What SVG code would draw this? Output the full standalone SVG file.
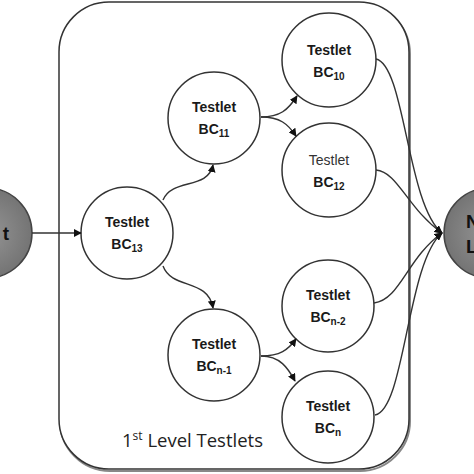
<svg xmlns="http://www.w3.org/2000/svg" width="474" height="474" viewBox="0 0 474 474">
<defs>
<marker id="ah" viewBox="0 0 10 10" refX="9" refY="5" markerWidth="8" markerHeight="8" markerUnits="userSpaceOnUse" orient="auto">
<path d="M0,0 L10,5 L0,10 z" fill="#111"/>
</marker>
<radialGradient id="gg" cx="0.5" cy="0.5" r="0.5">
<stop offset="0" stop-color="#959595"/>
<stop offset="1" stop-color="#747474"/>
</radialGradient>
</defs>
<style>
.node{fill:#fff;stroke:#333;stroke-width:1.5}
.ext{fill:url(#gg);stroke:#444;stroke-width:1.5}
.t{font-family:"Liberation Sans",Arial,sans-serif;font-size:14px;font-weight:bold;fill:#1a1a1a;text-anchor:middle}
.tr{font-weight:normal;fill:#333}
.sub{font-size:10px}
.big{font-family:"Liberation Sans",Arial,sans-serif;font-size:19px;font-weight:bold;fill:#111}
.conn path{fill:none;stroke:#333;stroke-width:1.4}
.lbl{font-family:"Open Sans","Liberation Sans",sans-serif;font-size:18.5px;fill:#222}
</style>
<g id="box">
<rect x="60" y="4" width="350" height="467" rx="50" fill="none" stroke="#888" stroke-width="2"/>
<rect x="59" y="2" width="350" height="467" rx="50" fill="#fff" stroke="#333" stroke-width="1.5"/>
<text class="lbl" x="122" y="447">1<tspan font-size="12" dy="-7">st</tspan><tspan dy="7"> Level Testlets</tspan></text>
</g>
<g id="input">
<circle class="ext" cx="-13" cy="233" r="45"/>
<text class="big" x="9" y="240" text-anchor="end">t</text>
</g>
<g id="output">
<circle class="ext" cx="489" cy="233" r="45"/>
<text class="big" x="466" y="228">N</text>
<text class="big" x="466" y="253">L</text>
</g>
<g id="bc13">
<circle class="node" cx="127" cy="233" r="46"/>
<text class="t" x="127" y="227">Testlet</text>
<text class="t" x="127" y="249">BC<tspan class="sub" dy="3">13</tspan></text>
</g>
<g id="bc11">
<circle class="node" cx="214" cy="118" r="46"/>
<text class="t" x="214" y="112">Testlet</text>
<text class="t" x="214" y="134">BC<tspan class="sub" dy="3">11</tspan></text>
</g>
<g id="bcn1">
<circle class="node" cx="214" cy="355" r="46"/>
<text class="t" x="214" y="349">Testlet</text>
<text class="t" x="214" y="371">BC<tspan class="sub" dy="3">n-1</tspan></text>
</g>
<g id="bc10">
<circle class="node" cx="329" cy="60" r="47"/>
<text class="t" x="329" y="55">Testlet</text>
<text class="t" x="329" y="77">BC<tspan class="sub" dy="3">10</tspan></text>
</g>
<g id="bc12">
<circle class="node" cx="329" cy="170" r="47"/>
<text class="t tr" x="329" y="165">Testlet</text>
<text class="t" x="329" y="187">BC<tspan class="sub" dy="3">12</tspan></text>
</g>
<g id="bcn2">
<circle class="node" cx="328" cy="306" r="46"/>
<text class="t" x="328" y="300">Testlet</text>
<text class="t" x="328" y="322">BC<tspan class="sub" dy="3">n-2</tspan></text>
</g>
<g id="bcn">
<circle class="node" cx="328" cy="417" r="46"/>
<text class="t" x="328" y="411">Testlet</text>
<text class="t" x="328" y="433">BC<tspan class="sub" dy="3">n</tspan></text>
</g>
<g id="connectors" class="conn">
<path d="M32,233 L81,233" marker-end="url(#ah)"/>
<path d="M163,200 C172,178 208,190 213,165" marker-end="url(#ah)"/>
<path d="M163,266 C172,290 208,278 213,308" marker-end="url(#ah)"/>
<path d="M261,117 C280,117 288,110 297,96" marker-end="url(#ah)"/>
<path d="M261,117 C280,117 288,124 296,136" marker-end="url(#ah)"/>
<path d="M261,356 C280,356 288,350 296,339" marker-end="url(#ah)"/>
<path d="M261,356 C280,356 288,368 295,381" marker-end="url(#ah)"/>
<path d="M376,59 C405,65 407,205 442,233" marker-end="url(#ah)"/>
<path d="M376,170 C398,172 407,208 442,233" marker-end="url(#ah)"/>
<path d="M374,303 C400,300 407,258 442,233" marker-end="url(#ah)"/>
<path d="M375,415 C405,410 407,262 442,233" marker-end="url(#ah)"/>
</g>
</svg>
